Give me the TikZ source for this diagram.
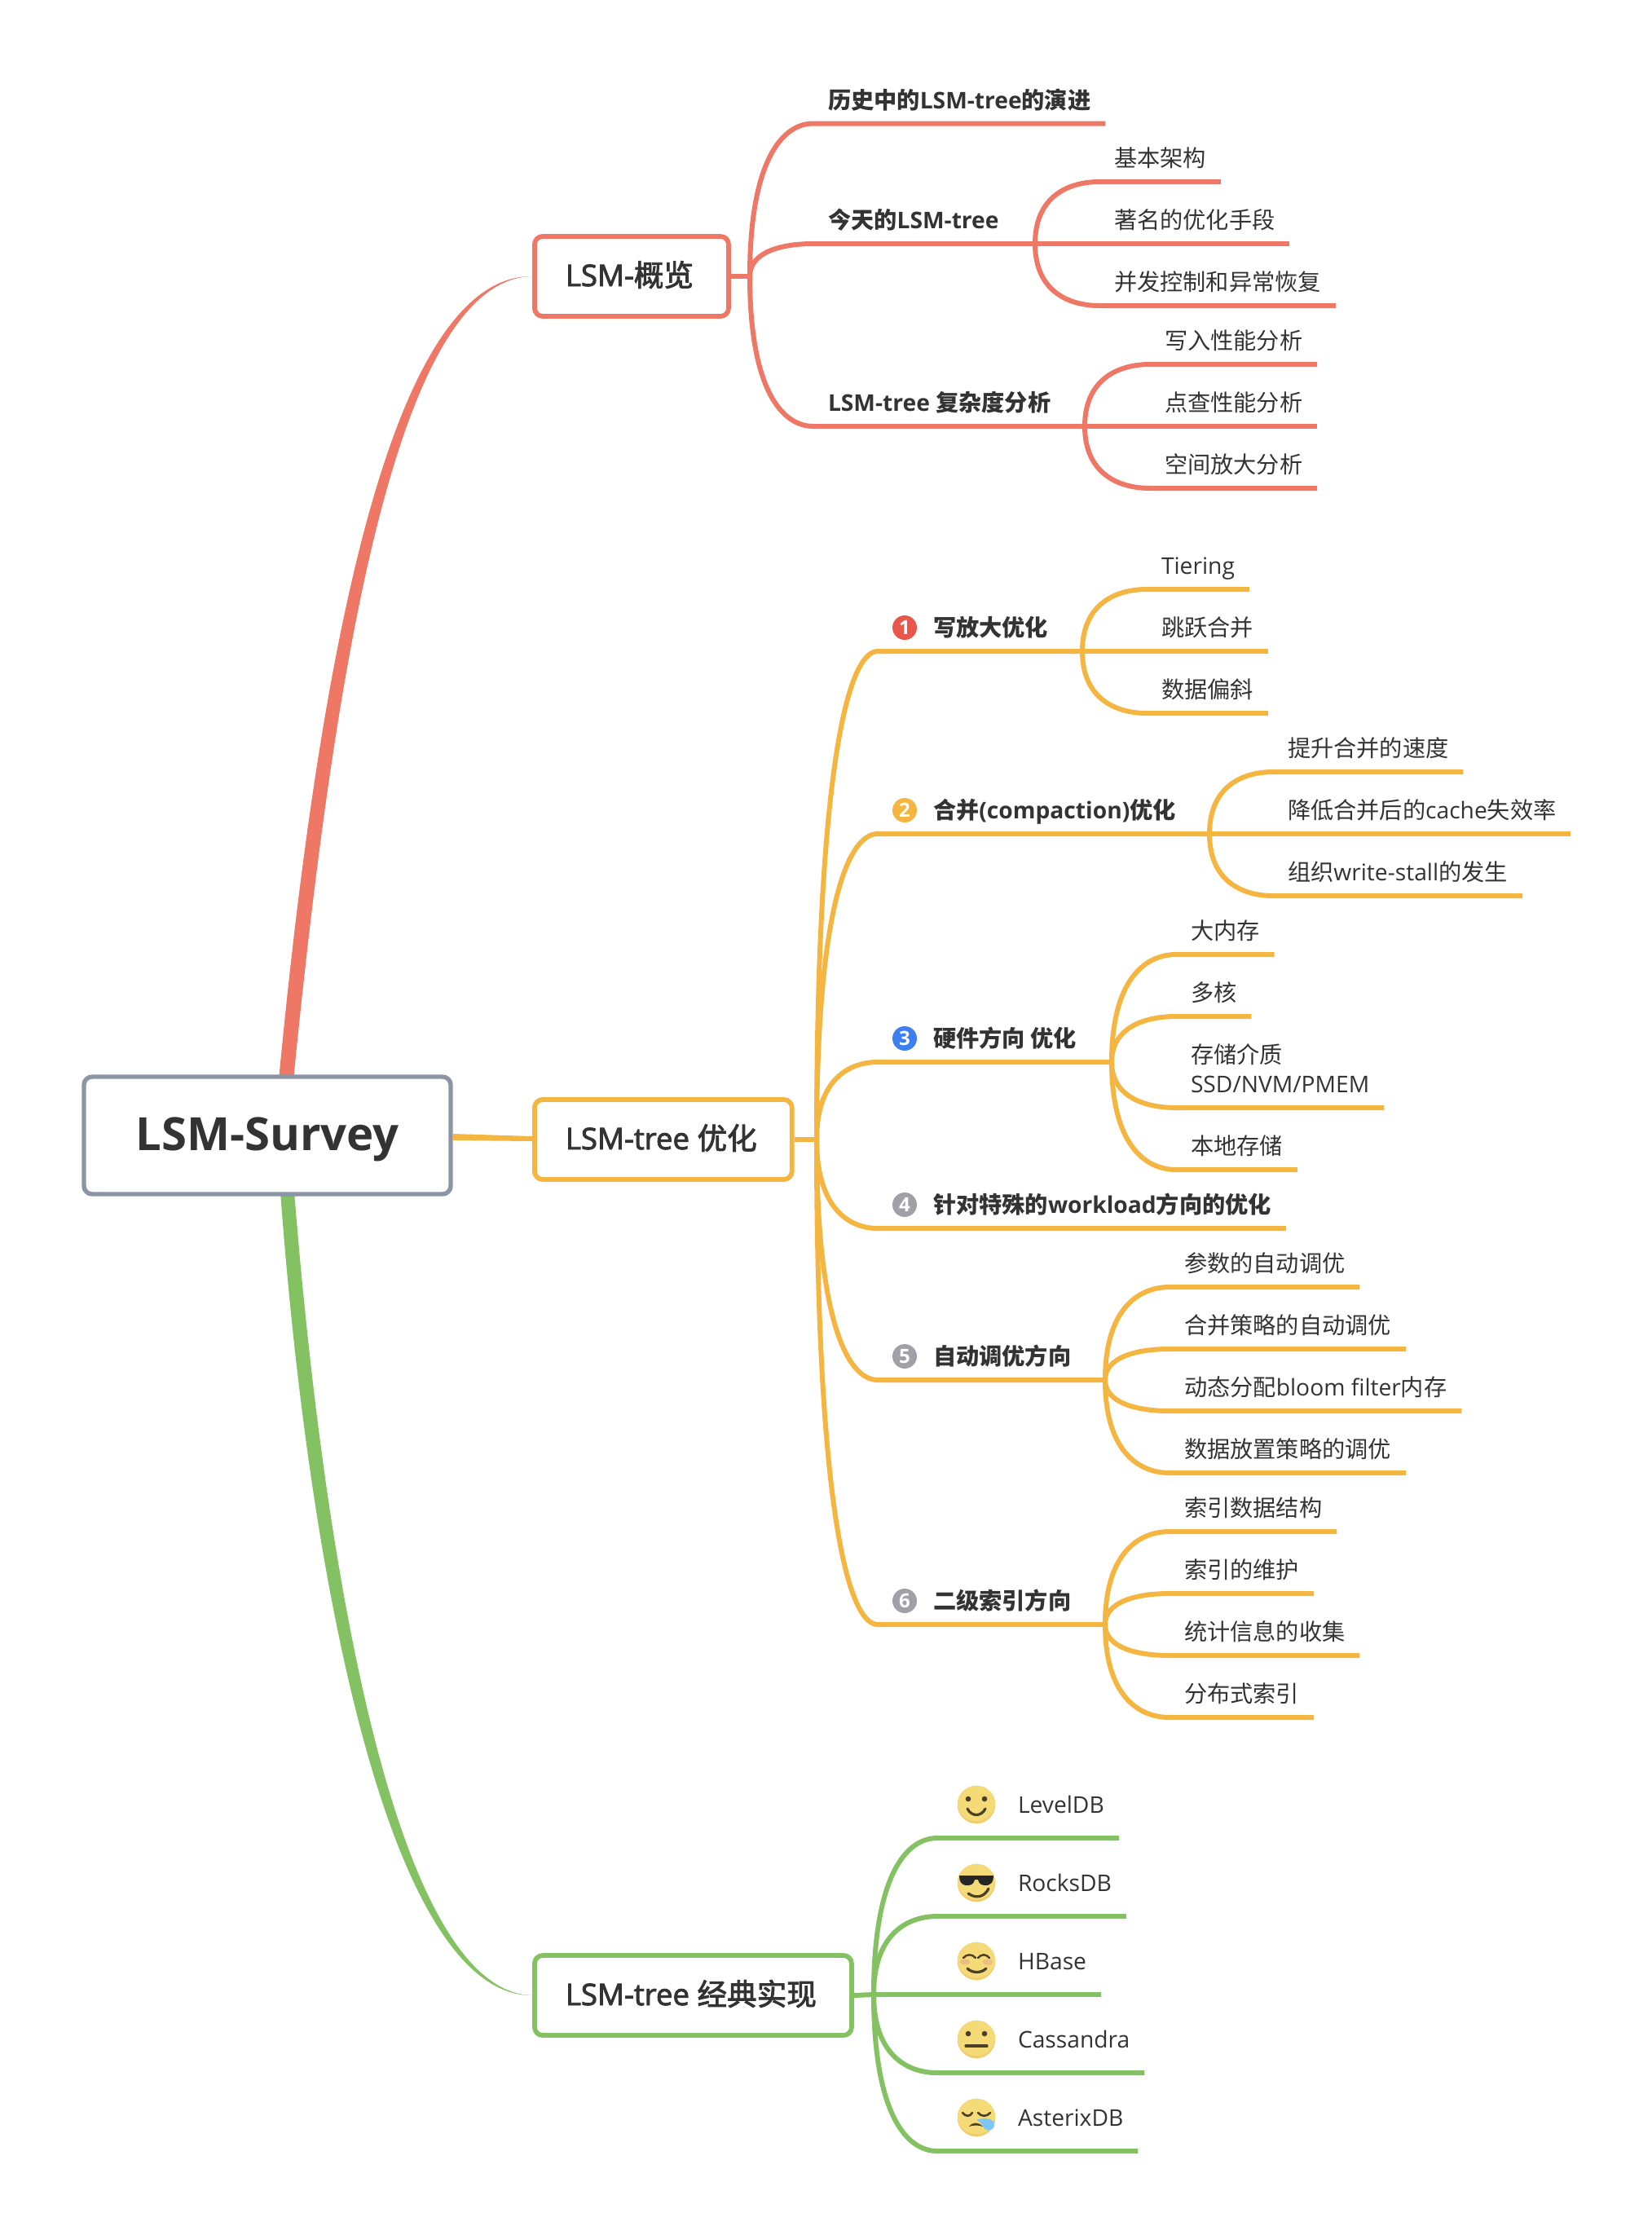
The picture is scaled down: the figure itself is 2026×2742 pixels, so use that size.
\documentclass[tikz,border=0pt]{standalone}
\usepackage{fontspec}
\setmainfont{Open Sans}
\newfontfamily\cjk{Noto Sans CJK SC}
\newfontfamily\topicen[FakeBold=2.5]{Open Sans}
\newfontfamily\topiczh[FakeBold=2.5]{Noto Sans CJK SC}
\newcommand{\zh}[1]{{\cjk #1}}
\newcommand{\tz}[1]{{\topiczh #1}\hspace*{2.5pt}}
\newcommand{\icongap}{\hspace*{25pt}}
\newcommand{\emogap}{\hspace*{40.5pt}}
\usetikzlibrary{calc,backgrounds}
\definecolor{rednote}{HTML}{EE7765}
\definecolor{yellownote}{HTML}{F5B541}
\definecolor{greennote}{HTML}{84C163}
\definecolor{rootgray}{HTML}{8B95A6}
\definecolor{inkgray}{HTML}{333333}
\definecolor{dotred}{HTML}{E8574C}
\definecolor{dotblue}{HTML}{3D7FEF}
\definecolor{dotgray}{HTML}{A0A0A6}
\definecolor{emoface}{HTML}{F5DA78}
\definecolor{emoshade}{HTML}{EFCD70}
\definecolor{emoink}{HTML}{4A3F27}
\definecolor{emoblush}{HTML}{EDBE82}
\definecolor{emotear}{HTML}{7EC8F8}
\tikzset{
	branch/.style={line width=3pt, to path={.. controls ($(\tikztostart)!.75!(\tikztostart |- \tikztotarget)$) and ($(\tikztotarget)!.5!(\tikztostart |- \tikztotarget)$) .. (\tikztotarget)}},
	stub/.style={line width=3pt},
	rootbox/.style={draw=rootgray, line width=2.7pt, rounded corners=5pt, fill=white, minimum width=225pt, minimum height=72pt, text height=20pt, text depth=2pt, text=inkgray, font=\fontsize{28.1}{34}\selectfont\bfseries},
	topicbox/.style={draw=#1, line width=2.9pt, rounded corners=5pt, fill=white, anchor=west, minimum height=49pt, inner xsep=19pt, text height=14pt, text depth=2pt, text=inkgray, font=\fontsize{18.3}{22}\selectfont\topicen},
	tail/.style={anchor=south west, inner xsep=9pt, inner ysep=0pt, outer sep=0pt, text height=11pt, text depth=9.25pt, text=inkgray, align=left, font=\fontsize{14.1}{18}\selectfont},
	parent/.style={tail, font=\fontsize{14.1}{18}\selectfont\bfseries},
	dbline/.style={tail, text depth=15.25pt},
	numdot/.style={circle, fill=#1, text=white, minimum size=15pt, inner sep=0pt, font=\fontsize{12}{12}\selectfont\bfseries},
	emo base/.pic={
		\fill[emoshade] (0,0) circle (23.3);
		\begin{scope}
			\clip (0,0) circle (23.3);
			\fill[emoface] (0,-3) circle (23.3);
		\end{scope}
	},
	emo smile/.pic={
		\pic {emo base};
		\fill[emoink] (-10,-7) circle (3.3) (10,-7) circle (3.3);
		\draw[emoink, line width=1.6pt, line cap=round] (-11,5) .. controls (-6,15) and (6,15) .. (11,5);
	},
	emo cool/.pic={
		\pic {emo base};
		\fill[black!85] (-21,-9) -- (21,-9) .. controls (21,-2) and (19,3) .. (11,3) .. controls (5,3) and (3,0) .. (2,-4) -- (-2,-4) .. controls (-3,0) and (-5,3) .. (-11,3) .. controls (-19,3) and (-21,-2) .. (-21,-9) -- cycle;
		\draw[emoink, line width=1.6pt, line cap=round] (-10,13) .. controls (0,20) and (10,17) .. (15,7);
	},
	emo blush/.pic={
		\pic {emo base};
		\fill[emoblush] (-14,1) ellipse (6.5 and 3.5) (14,1) ellipse (6.5 and 3.5);
		\draw[emoink, line width=1.2pt, line cap=round] (-16,-4) .. controls (-12,-9) and (-5,-9) .. (-1,-4) (2,-4) .. controls (6,-9) and (12,-9) .. (16,-4);
		\draw[emoink, line width=1.6pt, line cap=round] (-11,9) .. controls (-5,15) and (6,15) .. (12,9);
	},
	emo flat/.pic={
		\pic {emo base};
		\fill[emoink] (-10,-7) circle (3.3) (10,-7) circle (3.3);
		\draw[emoink, line width=1.6pt, line cap=round] (-13,8) -- (13,8);
	},
	emo sweat/.pic={
		\pic {emo base};
		\draw[emoink, line width=1.3pt, line cap=round] (-17,-6) .. controls (-13,-1) and (-8,-1) .. (-5,-6) (2,-6) .. controls (6,-1) and (13,-1) .. (17,-6);
		\fill[emoink] (-9,11) .. controls (-5,5) and (3,5) .. (8,11) .. controls (3,9) and (-4,9) .. (-9,11) -- cycle;
		\fill[emotear] (0,3) .. controls (8,0) and (18,0) .. (22,6) .. controls (24,16) and (12,18) .. (9,12) .. controls (7,7) and (4,5) .. (0,3) -- cycle;
	}
}
\begin{document}
\begin{tikzpicture}[x=.5pt, y=-.5pt]
	\useasboundingbox (0,0) rectangle (2026,2742);
	% root and its three topics
	\node[rootbox] (root) at (328,1393) {LSM-Survey};
	\node[topicbox=rednote] (over) at (653,339) {LSM-\tz{概览}};
	\node[topicbox=yellownote] (opt) at (653,1398) {LSM-tree \tz{优化}};
	\node[topicbox=greennote] (impl) at (653,2448) {LSM-tree \tz{经典实现}};
	% overview
	\coordinate (overj) at (920,339);
	\coordinate (nowj) at (1270,299);
	\coordinate (costj) at (1331,523);
	\node[parent] (hist) at (998,151.5) {\zh{历史中的}LSM-tree\zh{的演进}};
	\node[parent] (now) at (998,299) {\zh{今天的}LSM-tree};
	\node[parent] (cost) at (998,523) {LSM-tree \zh{复杂度分析}};
	\node[tail] (now1) at (1349,223) {\zh{基本架构}};
	\node[tail] (now2) at (1349,299) {\zh{著名的优化手段}};
	\node[tail] (now3) at (1349,375) {\zh{并发控制和异常恢复}};
	\node[tail] (cost1) at (1411,447) {\zh{写入性能分析}};
	\node[tail] (cost2) at (1411,523) {\zh{点查性能分析}};
	\node[tail] (cost3) at (1411,599) {\zh{空间放大分析}};
	% optimisation
	\coordinate (optj) at (1002,1398);
	\coordinate (w1j) at (1328,799);
	\coordinate (w2j) at (1484,1023);
	\coordinate (w3j) at (1364,1303);
	\coordinate (w5j) at (1356,1693);
	\coordinate (w6j) at (1356,1993);
	\node[parent] (w1) at (1077,799) {\icongap\zh{写放大优化}};
	\node[parent] (w2) at (1077,1023) {\icongap\zh{合并}(compaction)\zh{优化}};
	\node[parent] (w3) at (1077,1303) {\icongap\zh{硬件方向 优化}};
	\node[parent] (w4) at (1077,1507) {\icongap\zh{针对特殊的}workload\zh{方向的优化}};
	\node[parent] (w5) at (1077,1693) {\icongap\zh{自动调优方向}};
	\node[parent] (w6) at (1077,1993) {\icongap\zh{二级索引方向}};
	\node[numdot=dotred] (n1) at (1110,770) {1};
	\node[numdot=yellownote] (n2) at (1110,994) {2};
	\node[numdot=dotblue] (n3) at (1110,1274) {3};
	\node[numdot=dotgray] (n4) at (1110,1478) {4};
	\node[numdot=dotgray] (n5) at (1110,1664) {5};
	\node[numdot=dotgray] (n6) at (1110,1964) {6};
	\node[tail] (w1a) at (1407,723) {Tiering};
	\node[tail] (w1b) at (1407,799) {\zh{跳跃合并}};
	\node[tail] (w1c) at (1407,875) {\zh{数据偏斜}};
	\node[tail] (w2a) at (1562,947) {\zh{提升合并的速度}};
	\node[tail] (w2b) at (1562,1023) {\zh{降低合并后的}cache\zh{失效率}};
	\node[tail] (w2c) at (1562,1099) {\zh{组织}write-stall\zh{的发生}};
	\node[tail] (w3a) at (1443,1171) {\zh{大内存}};
	\node[tail] (w3b) at (1443,1247) {\zh{多核}};
	\node[tail] (w3c) at (1443,1359) {\zh{存储介质}\\SSD/NVM/PMEM};
	\node[tail] (w3d) at (1443,1435) {\zh{本地存储}};
	\node[tail] (w5a) at (1435,1579) {\zh{参数的自动调优}};
	\node[tail] (w5b) at (1435,1655) {\zh{合并策略的自动调优}};
	\node[tail] (w5c) at (1435,1731) {\zh{动态分配}bloom filter\zh{内存}};
	\node[tail] (w5d) at (1435,1807) {\zh{数据放置策略的调优}};
	\node[tail] (w6a) at (1435,1879) {\zh{索引数据结构}};
	\node[tail] (w6b) at (1435,1955) {\zh{索引的维护}};
	\node[tail] (w6c) at (1435,2031) {\zh{统计信息的收集}};
	\node[tail] (w6d) at (1435,2107) {\zh{分布式索引}};
	% implementations
	\coordinate (implj) at (1072,2447);
	\node[dbline] (db1) at (1150,2255) {\emogap LevelDB};
	\node[dbline] (db2) at (1150,2351) {\emogap RocksDB};
	\node[dbline] (db3) at (1150,2447) {\emogap HBase};
	\node[dbline] (db4) at (1150,2543) {\emogap Cassandra};
	\node[dbline] (db5) at (1150,2639) {\emogap AsterixDB};
	\pic at (1198,2214) {emo smile};
	\pic at (1198,2310) {emo cool};
	\pic at (1198,2406) {emo blush};
	\pic at (1198,2502) {emo flat};
	\pic at (1198,2598) {emo sweat};
	\begin{scope}[on background layer]
		% tapered main branches
		\fill[rednote] (342,1325) .. controls (392,800) and (480,337) .. (over.west) -- ++(8,0) -- ++(0,1.5) -- (over.west) .. controls (490,342) and (412,800) .. (360,1325) -- cycle;
		\fill[greennote] (344,1462) .. controls (380,1950) and (480,2449) .. (impl.west) -- ++(8,0) -- ++(0,-1.5) -- (impl.west) .. controls (490,2444) and (400,1950) .. (361,1462) -- cycle;
		\fill[yellownote] ($(root.east)+(0,-2)$) -- ($(opt.west)+(0,-4)$) -- ($(opt.west)+(0,2)$) -- ($(root.east)+(0,6)$) -- cycle;
		\begin{scope}[draw=rednote]
			\draw[stub] (over.east) -- (overj);
			\draw[branch] (overj) to (hist.south west) -- (hist.south east);
			\draw[branch] (overj) to (now.south west) -- (nowj);
			\draw[branch] (overj) to (cost.south west) -- (costj);
			\foreach \leaf in {now1,now2,now3}
				\draw[branch] (nowj) to (\leaf.south west) -- (\leaf.south east);
			\foreach \leaf in {cost1,cost2,cost3}
				\draw[branch] (costj) to (\leaf.south west) -- (\leaf.south east);
		\end{scope}
		\begin{scope}[draw=yellownote]
			\draw[stub] (opt.east) -- (optj);
			\draw[branch] (optj) to (w1.south west) -- (w1j);
			\draw[branch] (optj) to (w2.south west) -- (w2j);
			\draw[branch] (optj) to (w3.south west) -- (w3j);
			\draw[branch] (optj) to (w4.south west) -- (w4.south east);
			\draw[branch] (optj) to (w5.south west) -- (w5j);
			\draw[branch] (optj) to (w6.south west) -- (w6j);
			\foreach \leaf in {w1a,w1b,w1c}
				\draw[branch] (w1j) to (\leaf.south west) -- (\leaf.south east);
			\foreach \leaf in {w2a,w2b,w2c}
				\draw[branch] (w2j) to (\leaf.south west) -- (\leaf.south east);
			\foreach \leaf in {w3a,w3b,w3c,w3d}
				\draw[branch] (w3j) to (\leaf.south west) -- (\leaf.south east);
			\foreach \leaf in {w5a,w5b,w5c,w5d}
				\draw[branch] (w5j) to (\leaf.south west) -- (\leaf.south east);
			\foreach \leaf in {w6a,w6b,w6c,w6d}
				\draw[branch] (w6j) to (\leaf.south west) -- (\leaf.south east);
		\end{scope}
		\begin{scope}[draw=greennote]
			\draw[stub] (impl.east) -- (implj);
			\foreach \leaf in {db1,db2,db3,db4,db5}
				\draw[branch] (implj) to (\leaf.south west) -- (\leaf.south east);
		\end{scope}
	\end{scope}
\end{tikzpicture}
\end{document}
